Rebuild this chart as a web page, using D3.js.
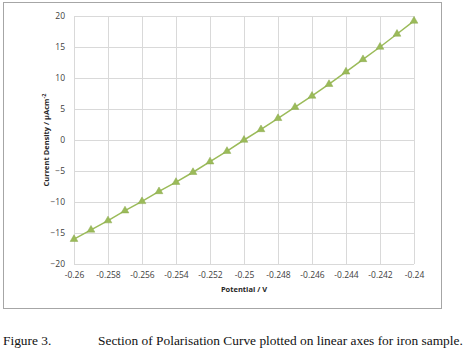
<!DOCTYPE html>
<html>
<head>
<meta charset="utf-8">
<script src="https://cdn.jsdelivr.net/npm/d3@7"></script>
<style>
  html, body { margin: 0; padding: 0; background: #fff; }
  svg { display: block; }
</style>
</head>
<body>
<svg id="chart" width="474" height="349"></svg>
<script>
// Polarisation curve section for the iron sample
const potential = [-0.260, -0.259, -0.258, -0.257, -0.256, -0.255, -0.254, -0.253, -0.252, -0.251,
                   -0.250, -0.249, -0.248, -0.247, -0.246, -0.245, -0.244, -0.243, -0.242, -0.241, -0.240];
const currentDensity = [-16.0, -14.5, -13.0, -11.4, -9.9, -8.3, -6.8, -5.2, -3.5, -1.8,
                        0.0, 1.7, 3.5, 5.3, 7.1, 9.0, 11.0, 13.0, 15.0, 17.1, 19.2];
const xTicks = [-0.26, -0.258, -0.256, -0.254, -0.252, -0.25, -0.248, -0.246, -0.244, -0.242, -0.24];
const yTicks = [-20, -15, -10, -5, 0, 5, 10, 15, 20];
const xTickLabels = ["-0.26", "-0.258", "-0.256", "-0.254", "-0.252", "-0.25", "-0.248", "-0.246", "-0.244", "-0.242", "-0.24"];

const svg = d3.select("#chart");
const plot = { left: 74, right: 414, top: 16, bottom: 264 };

const x = d3.scaleLinear().domain([-0.26, -0.24]).range([plot.left, plot.right]);
const y = d3.scaleLinear().domain([-20, 20]).range([plot.bottom, plot.top]);

// chart frame
svg.append("rect")
  .attr("x", 3.5).attr("y", 2.5).attr("width", 438).attr("height", 306)
  .attr("fill", "#fff").attr("stroke", "#a6a6a6").attr("stroke-width", 1);

const tickFont = "'Open Sans', 'Noto Sans', sans-serif";

// gridlines
svg.append("g")
  .selectAll("line.h").data(yTicks).join("line")
  .attr("x1", plot.left).attr("x2", plot.right)
  .attr("y1", d => Math.round(y(d)) + 0.5).attr("y2", d => Math.round(y(d)) + 0.5)
  .attr("stroke", "#d9d9d9").attr("stroke-width", 1);
svg.append("g")
  .selectAll("line.v").data(xTicks).join("line")
  .attr("y1", plot.top).attr("y2", plot.bottom)
  .attr("x1", d => Math.round(x(d)) + 0.5).attr("x2", d => Math.round(x(d)) + 0.5)
  .attr("stroke", "#d9d9d9").attr("stroke-width", 1);

// axes (labels only, Excel style)
const xAxis = svg.append("g")
  .attr("transform", `translate(0,${plot.bottom + 5})`)
  .call(d3.axisBottom(x).tickValues(xTicks).tickSize(0).tickPadding(3)
    .tickFormat((d, i) => xTickLabels[i]));
xAxis.select(".domain").remove();
xAxis.selectAll("text").attr("fill", "#404040")
  .style("font-family", tickFont).style("font-size", "8.5px");

const yAxis = svg.append("g")
  .attr("transform", `translate(${plot.left - 6},0)`)
  .call(d3.axisLeft(y).tickValues(yTicks).tickSize(0).tickPadding(3));
yAxis.select(".domain").remove();
yAxis.selectAll("text").attr("fill", "#404040")
  .style("font-family", tickFont).style("font-size", "8.5px");

// axis titles
svg.append("text")
  .attr("x", (plot.left + plot.right) / 2).attr("y", 292)
  .attr("text-anchor", "middle")
  .style("font-family", tickFont).style("font-size", "7.5px").style("font-weight", "bold")
  .attr("fill", "#262626")
  .text("Potential / V");

const yTitle = svg.append("text")
  .attr("transform", `translate(49,${(plot.top + plot.bottom) / 2}) rotate(-90)`)
  .attr("text-anchor", "middle")
  .style("font-family", tickFont).style("font-size", "7.5px").style("font-weight", "bold")
  .attr("fill", "#262626");
yTitle.append("tspan").text("Current Density / µAcm");
yTitle.append("tspan").attr("dy", -3).style("font-size", "5.5px").text("-2");

// series line
const data = potential.map((p, i) => ({ p, c: currentDensity[i] }));
svg.append("path")
  .datum(data)
  .attr("fill", "none")
  .attr("stroke", "#9bbb59")
  .attr("stroke-width", 1.5)
  .attr("d", d3.line().x(d => x(d.p)).y(d => y(d.c)));

// triangle markers
const tri = d3.symbol().type(d3.symbolTriangle).size(26);
svg.append("g")
  .selectAll("path").data(data).join("path")
  .attr("transform", d => `translate(${x(d.p)},${y(d.c)})`)
  .attr("d", tri)
  .attr("fill", "#9bbb59")
  .attr("stroke", "#8aa84e")
  .attr("stroke-width", 0.5);

// caption
const capFont = "'Liberation Serif', 'Times New Roman', serif";
svg.append("text")
  .attr("x", 3).attr("y", 345)
  .style("font-family", capFont).style("font-size", "13.4px")
  .attr("fill", "#111")
  .text("Figure 3.");
svg.append("text")
  .attr("x", 98).attr("y", 345)
  .style("font-family", capFont).style("font-size", "13.4px")
  .attr("fill", "#111")
  .text("Section of Polarisation Curve plotted on linear axes for iron sample.");
</script>
</body>
</html>
